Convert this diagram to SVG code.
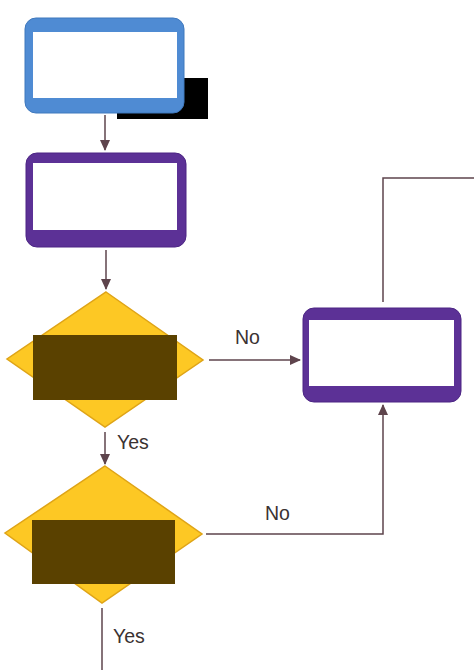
<svg xmlns="http://www.w3.org/2000/svg" width="474" height="670" viewBox="0 0 474 670">
<defs>
<style>
.conn{fill:none;stroke:#5e444c;stroke-width:1.5}
.lbl{font-family:"Liberation Sans",Arial,sans-serif;font-size:19.5px;fill:#3a3232}
.inner{fill:#ffffff}
.dia{fill:#fdc824;stroke:#dfa416;stroke-width:1.5}
.blk{fill:#5a4100}
</style>
<marker id="ah" markerWidth="11" markerHeight="11" refX="10" refY="5.5" orient="auto" markerUnits="userSpaceOnUse">
<path d="M0,0.5 L11,5.5 L0,10.5 Z" fill="#5e444c"/>
</marker>
</defs>
<rect width="474" height="670" fill="#ffffff"/>
<g id="node-start">
<rect x="117" y="78" width="91" height="41" fill="#000000"/>
<rect x="25" y="18" width="159" height="95" rx="11" fill="#4f8bd3" stroke="#3f78bd" stroke-width="1"/>
<rect class="inner" x="33" y="32" width="144" height="66"/>
</g>
<g id="node-step2">
<rect x="26" y="153" width="160" height="94" rx="11" fill="#5c3196" stroke="#4c2584" stroke-width="1"/>
<rect class="inner" x="33" y="163" width="144" height="67"/>
</g>
<g id="node-decision1">
<polygon class="dia" points="106,292 203,360 105,427 7,359"/>
<rect class="blk" x="33" y="335" width="144" height="65"/>
</g>
<g id="node-decision2">
<polygon class="dia" points="105,466 202,534 102,603 5,533"/>
<rect class="blk" x="32" y="520" width="143" height="64"/>
</g>
<g id="node-step3">
<rect x="303" y="308" width="158" height="94" rx="11" fill="#5c3196" stroke="#4c2584" stroke-width="1"/>
<rect class="inner" x="309" y="320" width="145" height="66"/>
</g>
<g id="connectors">
<path class="conn" d="M105,115 L105,150" marker-end="url(#ah)"/>
<path class="conn" d="M106,250 L106,289" marker-end="url(#ah)"/>
<path class="conn" d="M209,360 L300,360" marker-end="url(#ah)"/>
<path class="conn" d="M105,432 L105,464" marker-end="url(#ah)"/>
<path class="conn" d="M206,534 L383,534 L383,405" marker-end="url(#ah)"/>
<path class="conn" d="M102,608 L102,670"/>
<path class="conn" d="M383,302 L383,178 L474,178"/>
<text class="lbl" x="235" y="344">No</text>
<text class="lbl" x="117" y="449">Yes</text>
<text class="lbl" x="265" y="520">No</text>
<text class="lbl" x="113" y="643">Yes</text>
</g>
</svg>
